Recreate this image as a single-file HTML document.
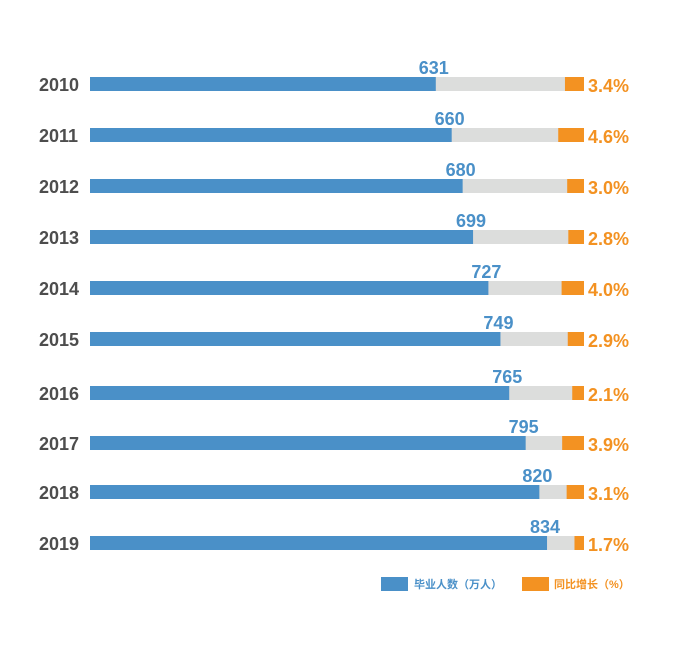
<!DOCTYPE html>
<html><head><meta charset="utf-8"><style>
body{margin:0;background:#fff;width:681px;height:645px;overflow:hidden}
svg text{font-family:"Liberation Sans","Noto Sans CJK SC",sans-serif;font-weight:bold}
</style></head><body>
<svg width="681" height="645" xmlns="http://www.w3.org/2000/svg">
<g id="rows"></g>
<rect x="381" y="577" width="27" height="14" fill="#4a90c8"/>
<text x="414" y="588" font-size="11" fill="#4a90c8">毕业人数（万人）</text>
<rect x="522" y="577" width="27" height="14" fill="#f39222"/>
<text x="554" y="588" font-size="11" fill="#f39222">同比增长（%）</text>
</svg>
<script>
var d=[[2010,631,3.4],[2011,660,4.6],[2012,680,3.0],[2013,699,2.8],[2014,727,4.0],[2015,749,2.9],[2016,765,2.1],[2017,795,3.9],[2018,820,3.1],[2019,834,1.7]];
var tops=[77,128,179,230,281,332,386,436,485,536];
var s='';
d.forEach(function(r,i){var t=tops[i];var be=90+r[1]*0.548;var ow=r[2]*5.6;var os=584-ow;
s+='<rect x="90" y="'+t+'" width="'+(584-90)+'" height="14" fill="#dcdddc"/>';
s+='<rect x="90" y="'+t+'" width="'+(be-90)+'" height="14" fill="#4a90c8"/>';
s+='<rect x="'+os+'" y="'+t+'" width="'+ow+'" height="14" fill="#f39222"/>';
s+='<text x="39" y="'+(t+14)+'" font-size="18" fill="#4d4d4d">'+r[0]+'</text>';
s+='<text x="'+(be-2)+'" y="'+(t-3)+'" font-size="18" fill="#4a90c8" text-anchor="middle">'+r[1]+'</text>';
s+='<text x="588" y="'+(t+15)+'" font-size="18" fill="#f39222">'+r[2].toFixed(1)+'%</text>';});
document.getElementById('rows').innerHTML=s;
</script>
</body></html>
